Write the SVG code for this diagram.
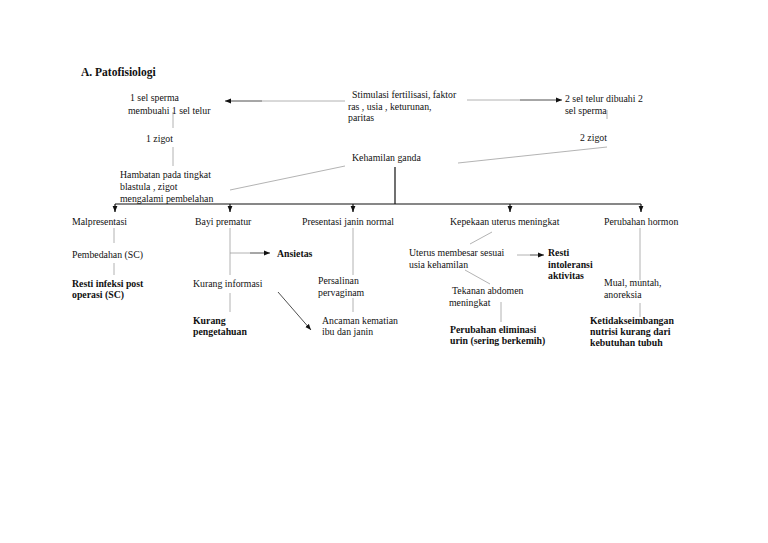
<svg xmlns="http://www.w3.org/2000/svg" width="768" height="543" viewBox="0 0 768 543">
<style>
text{font-family:"Liberation Serif","Times New Roman",serif;font-size:9.8px;fill:#111}
.b{font-weight:bold}
.t{font-weight:bold;font-size:11.5px}
.g{stroke:#a0a0a0;stroke-width:0.8;fill:none}
.k{stroke:#111;stroke-width:1.2;fill:none}
.a{stroke:#222;stroke-width:0.8;fill:none}
</style>
<defs>
<marker id="ah" viewBox="0 0 10 10" refX="10" refY="5" markerWidth="6" markerHeight="6" markerUnits="userSpaceOnUse" orient="auto"><path d="M0,1 L10,5 L0,9 z" fill="#111"/></marker>
</defs>
<rect width="768" height="543" fill="#fff"/>
<text class="t" x="81" y="76">A.  Patofisiologi</text>
<g id="connectors">
<line class="g" x1="345" y1="101" x2="262" y2="101"/>
<line class="a" x1="262" y1="101" x2="225" y2="101" marker-end="url(#ah)"/>
<line class="g" x1="467" y1="100" x2="520" y2="100"/>
<line class="a" x1="520" y1="100" x2="562" y2="100" marker-end="url(#ah)"/>
<line class="g" x1="173" y1="112" x2="173" y2="128"/>
<line class="g" x1="173" y1="147" x2="173" y2="166"/>
<line class="g" x1="607" y1="110" x2="607" y2="119"/>
<line class="g" x1="607" y1="147" x2="458" y2="163"/>
<line class="g" x1="345" y1="166" x2="230" y2="190"/>
<line class="k" x1="395" y1="167" x2="395" y2="204"/>
<line class="k" x1="115" y1="204" x2="641" y2="204"/>
<line class="k" x1="115" y1="204" x2="115" y2="212" marker-end="url(#ah)"/>
<line class="k" x1="230" y1="204" x2="230" y2="212" marker-end="url(#ah)"/>
<line class="k" x1="353" y1="204" x2="353" y2="212" marker-end="url(#ah)"/>
<line class="k" x1="510" y1="204" x2="510" y2="212" marker-end="url(#ah)"/>
<line class="k" x1="641" y1="204" x2="641" y2="212" marker-end="url(#ah)"/>
<line class="g" x1="114" y1="228" x2="114" y2="243"/>
<line class="g" x1="114" y1="263" x2="114" y2="275"/>
<line class="g" x1="230" y1="228" x2="230" y2="275"/>
<line class="g" x1="230" y1="253" x2="250" y2="253"/>
<line class="a" x1="250" y1="253" x2="270" y2="253" marker-end="url(#ah)"/>
<line class="g" x1="230" y1="293" x2="230" y2="312"/>
<line class="a" x1="278" y1="292" x2="311" y2="330" marker-end="url(#ah)"/>
<line class="g" x1="353" y1="228" x2="353" y2="275"/>
<line class="g" x1="353" y1="298" x2="353" y2="312"/>
<line class="g" x1="492" y1="232" x2="470" y2="244"/>
<line class="g" x1="517" y1="255" x2="530" y2="255"/>
<line class="a" x1="530" y1="255" x2="544" y2="255" marker-end="url(#ah)"/>
<line class="g" x1="465" y1="270" x2="490" y2="284"/>
<line class="g" x1="501" y1="302" x2="501" y2="322"/>
<line class="g" x1="640" y1="228" x2="640" y2="280"/>
<line class="g" x1="640" y1="303" x2="640" y2="317"/>
</g>
<g id="n-stimulasi"><text x="352" y="98">Stimulasi fertilisasi, faktor</text><text x="348" y="110">ras , usia , keturunan,</text><text x="348" y="121">paritas</text></g>
<g id="n-1sel"><text x="130" y="101">1 sel sperma</text><text x="128" y="114">membuahi 1 sel telur</text></g>
<g id="n-2sel"><text x="565" y="102">2 sel telur dibuahi 2</text><text x="565" y="114">sel sperma</text></g>
<g id="n-1zigot"><text x="146" y="142">1 zigot</text></g>
<g id="n-2zigot"><text x="580" y="141">2 zigot</text></g>
<g id="n-kehamilan"><text x="352" y="161">Kehamilan ganda</text></g>
<g id="n-hambatan"><text x="120" y="178">Hambatan pada tingkat</text><text x="120" y="190">blastula , zigot</text><text x="120" y="202">mengalami pembelahan</text></g>
<g id="n-malpresentasi"><text x="72" y="225">Malpresentasi</text></g>
<g id="n-bayi"><text x="195" y="225">Bayi prematur</text></g>
<g id="n-presentasi"><text x="302" y="225">Presentasi janin normal</text></g>
<g id="n-kepekaan"><text x="450" y="225">Kepekaan uterus meningkat</text></g>
<g id="n-hormon"><text x="604" y="225">Perubahan hormon</text></g>
<g id="n-pembedahan"><text x="72" y="258">Pembedahan (SC)</text></g>
<g id="n-resti-infeksi"><text class="b" x="72" y="287">Resti infeksi post</text><text class="b" x="72" y="298">operasi (SC)</text></g>
<g id="n-ansietas"><text class="b" x="277" y="257">Ansietas</text></g>
<g id="n-kurang-info"><text x="193" y="287">Kurang informasi</text></g>
<g id="n-kurang-peng"><text class="b" x="193" y="324">Kurang</text><text class="b" x="193" y="335">pengetahuan</text></g>
<g id="n-persalinan"><text x="318" y="284">Persalinan</text><text x="318" y="296">pervaginam</text></g>
<g id="n-ancaman"><text x="322" y="324">Ancaman kematian</text><text x="322" y="335">ibu dan janin</text></g>
<g id="n-uterus"><text x="409" y="256">Uterus membesar sesuai</text><text x="409" y="268">usia kehamilan</text></g>
<g id="n-resti-intol"><text class="b" x="548" y="256">Resti</text><text class="b" x="548" y="268">intoleransi</text><text class="b" x="548" y="279">aktivitas</text></g>
<g id="n-tekanan"><text x="452" y="294">Tekanan abdomen</text><text x="449" y="306">meningkat</text></g>
<g id="n-eliminasi"><text class="b" x="450" y="333">Perubahan eliminasi</text><text class="b" x="450" y="344">urin (sering berkemih)</text></g>
<g id="n-mual"><text x="604" y="286">Mual, muntah,</text><text x="604" y="298">anoreksia</text></g>
<g id="n-nutrisi"><text class="b" x="590" y="324">Ketidakseimbangan</text><text class="b" x="590" y="335">nutrisi kurang dari</text><text class="b" x="590" y="346">kebutuhan tubuh</text></g>
</svg>
